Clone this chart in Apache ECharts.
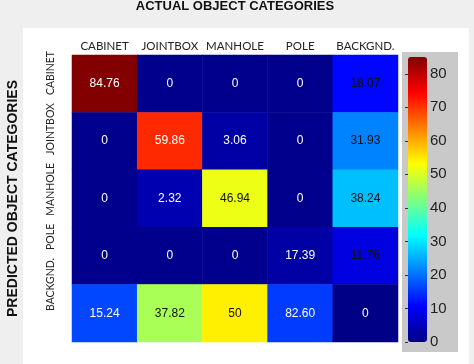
<!DOCTYPE html>
<html>
<head>
<meta charset="utf-8">
<script src="https://cdn.jsdelivr.net/npm/echarts@6/dist/echarts.min.js"></script>
<style>
html,body{margin:0;padding:0;background:#efefef;}
#c{width:474px;height:364px;}
</style>
</head>
<body>
<div id="c"></div>
<script>
// ---- data ----
const actualCategories = ['CABINET', 'JOINTBOX', 'MANHOLE', 'POLE', 'BACKGND.'];
const predictedCategories = ['CABINET', 'JOINTBOX', 'MANHOLE', 'POLE', 'BACKGND.'];
// printed numbers, row = predicted, column = actual
const printedValues = [
  ['84.76', '0', '0', '0', '18.07'],
  ['0', '59.86', '3.06', '0', '31.93'],
  ['0', '2.32', '46.94', '0', '38.24'],
  ['0', '0', '0', '17.39', '11.76'],
  ['15.24', '37.82', '50', '82.60', '0']
];
// colour level of each cell
const shadeValues = [
  [84.76, 1, 1, 1, 11],
  [1, 71, 3, 1, 21.5],
  [1, 4, 51.5, 1, 26.5],
  [1, 1, 1, 3, 8],
  [16.5, 46, 54.5, 15.5, 0.5]
];
const colorbarTicks = [0, 10, 20, 30, 40, 50, 60, 70, 80];
const colorbarMax = 85;

// ---- styles ----
const darkText = [
  [false, false, false, false, true],
  [false, false, false, false, true],
  [false, false, true, false, true],
  [false, false, false, false, true],
  [false, true, true, false, false]
];
// in the original the row labels are set as one continuous run of rotated text
const yLabelRunX = 51;
const yLabelRunCenterY = 181;
const jet = ['#000080', '#0000ff', '#0080ff', '#00ffff', '#80ff80', '#ffff00', '#ff8000', '#ff0000', '#800000'];

const cells = [];
for (let r = 0; r < predictedCategories.length; r++) {
  for (let c = 0; c < actualCategories.length; c++) {
    cells.push({
      value: [c, r, shadeValues[r][c], printedValues[r][c]],
      label: { color: darkText[r][c] ? '#101010' : '#ffffff' }
    });
  }
}

const graphics = [
  { type: 'rect', shape: { x: 23, y: 28, width: 446, height: 340 }, style: { fill: '#ffffff' }, z: -10, silent: true },
  { type: 'rect', shape: { x: 402, y: 52, width: 56, height: 300 }, style: { fill: '#c9c9c9' }, z: -5, silent: true },
  {
    type: 'text', x: yLabelRunX, y: yLabelRunCenterY, rotation: Math.PI / 2, silent: true,
    style: {
      text: predictedCategories.slice().reverse().join('   '),
      align: 'center', verticalAlign: 'middle', fontFamily: 'Lato', fontSize: 10.5, fill: '#222'
    }
  }
];

const chart = echarts.init(document.getElementById('c'), null, { renderer: 'canvas' });
chart.setOption({
  backgroundColor: '#efefef',
  animation: false,
  graphic: graphics,
  grid: [
    { left: 72, top: 55, width: 326, height: 287, outerBoundsMode: 'none', containLabel: false },
    { left: 408, top: 57, width: 19, height: 285, outerBoundsMode: 'none', containLabel: false }
  ],
  xAxis: [
    {
      type: 'category', data: actualCategories, position: 'top', gridIndex: 0,
      name: 'ACTUAL OBJECT CATEGORIES', nameLocation: 'middle', nameGap: 42.5,
      nameTextStyle: { fontFamily: 'Liberation Sans', fontWeight: 'bold', fontSize: 13, color: '#111' },
      axisLine: { show: false }, axisTick: { show: false },
      axisLabel: { interval: 0, fontFamily: 'Lato', fontSize: 11.5, color: '#222', margin: 3 },
      splitLine: { show: false }
    },
    { type: 'value', gridIndex: 1, show: false, min: 0, max: 1 }
  ],
  yAxis: [
    {
      type: 'category', data: predictedCategories, inverse: true, gridIndex: 0,
      name: 'PREDICTED OBJECT CATEGORIES', nameLocation: 'middle', nameGap: 52, nameRotate: 90,
      nameTextStyle: { fontFamily: 'Liberation Sans', fontWeight: 'bold', fontSize: 14, color: '#111' },
      axisLine: { show: false }, axisTick: { show: false },
      axisLabel: { show: false },
      splitLine: { show: false }
    },
    {
      type: 'value', gridIndex: 1, position: 'right', min: 0, max: colorbarMax, interval: 10,
      axisLine: { show: false },
      axisTick: { show: true, inside: true, length: 3, lineStyle: { color: '#333' } },
      axisLabel: {
        showMaxLabel: false, margin: 3, fontFamily: 'Liberation Sans', fontSize: 15, color: '#222',
        formatter: function (v) { return colorbarTicks.indexOf(v) >= 0 ? String(v) : ''; }
      },
      splitLine: { show: false }
    }
  ],
  visualMap: {
    type: 'continuous', min: 0, max: colorbarMax, dimension: 2, seriesIndex: 0,
    calculable: false, orient: 'vertical', left: 408, top: 57, itemWidth: 19, itemHeight: 285,
    padding: 0, text: null, showLabel: false,
    inRange: { color: jet }
  },
  series: [{
    type: 'heatmap', xAxisIndex: 0, yAxisIndex: 0,
    data: cells,
    label: {
      show: true, fontFamily: 'Liberation Sans', fontSize: 12,
      formatter: function (p) { return p.data.value[3]; }
    },
    itemStyle: { borderWidth: 0 }
  }]
});
</script>
</body>
</html>
